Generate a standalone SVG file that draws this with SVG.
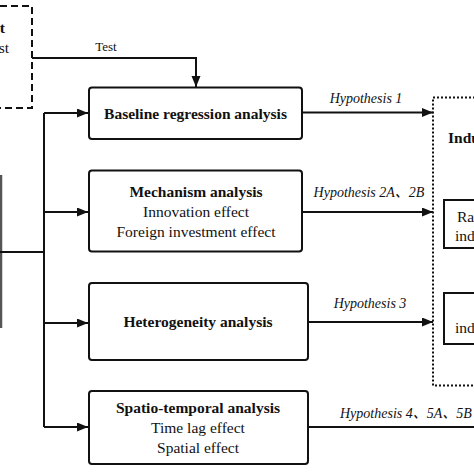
<svg xmlns="http://www.w3.org/2000/svg" width="474" height="474" viewBox="0 0 474 474">
<defs>
<style>
.t{font-family:"Liberation Serif","Times New Roman","Noto Sans CJK SC",serif;fill:#111}
.b{font-weight:bold;font-size:15.5px}
.r{font-size:15.5px}
.h{font-style:italic;font-size:14px}
.box{fill:#fff;stroke:#111;stroke-width:2}
.ln{fill:none;stroke:#111;stroke-width:2}
</style>
<marker id="ar" markerUnits="userSpaceOnUse" markerWidth="12" markerHeight="10" refX="11" refY="4.5" orient="auto">
<path d="M0,0 L11,4.5 L0,9 z" fill="#111"/>
</marker>
</defs>
<rect width="474" height="474" fill="#fff"/>

<g id="test-box">
<path d="M0,6 H32 V108 H0" fill="none" stroke="#111" stroke-width="2" stroke-dasharray="7,4"/>
<text class="t b" x="5" y="33" text-anchor="end">t</text>
<text class="t r" x="9" y="53" text-anchor="end">st</text>
</g>

<g id="left-box">
<line x1="1" y1="175" x2="1" y2="328" stroke="#555" stroke-width="2.5"/>
</g>

<g id="connectors">
<path class="ln" d="M32,58 H196 V87" marker-end="url(#ar)"/>
<text class="t" x="106" y="51" font-size="13" text-anchor="middle">Test</text>
<path class="ln" d="M0,252 H44"/>
<path class="ln" d="M44,113 V427"/>
<path class="ln" d="M44,113 H88" marker-end="url(#ar)"/>
<path class="ln" d="M44,212 H88" marker-end="url(#ar)"/>
<path class="ln" d="M44,323 H88" marker-end="url(#ar)"/>
<path class="ln" d="M44,427 H88" marker-end="url(#ar)"/>
<path class="ln" d="M302,112.5 H433" marker-end="url(#ar)"/>
<path class="ln" d="M302,212 H433" marker-end="url(#ar)"/>
<path class="ln" d="M308,322 H433" marker-end="url(#ar)"/>
<path class="ln" d="M308,427 H476"/>
<text class="t h" x="366" y="103" text-anchor="middle">Hypothesis 1</text>
<text class="t h" x="369" y="197" text-anchor="middle">Hypothesis 2A、2B</text>
<text class="t h" x="370" y="308" text-anchor="middle">Hypothesis 3</text>
<text class="t h" x="340" y="418">Hypothesis 4、5A、5B</text>
</g>

<g id="baseline">
<rect class="box" x="89" y="87.5" width="213" height="51.5" rx="3"/>
<text class="t b" x="195.5" y="119" text-anchor="middle">Baseline regression analysis</text>
</g>

<g id="mechanism">
<rect class="box" x="89" y="170.5" width="213" height="81" rx="3"/>
<text class="t b" x="196" y="197" text-anchor="middle">Mechanism analysis</text>
<text class="t r" x="196" y="217" text-anchor="middle">Innovation effect</text>
<text class="t r" x="196" y="237" text-anchor="middle">Foreign investment effect</text>
</g>

<g id="heterogeneity">
<rect class="box" x="89" y="283" width="219" height="77" rx="3"/>
<text class="t b" x="198" y="327" text-anchor="middle">Heterogeneity analysis</text>
</g>

<g id="spatio">
<rect class="box" x="89" y="391" width="219" height="73" rx="3"/>
<text class="t b" x="198" y="413" text-anchor="middle">Spatio-temporal analysis</text>
<text class="t r" x="198" y="433" text-anchor="middle">Time lag effect</text>
<text class="t r" x="198" y="453" text-anchor="middle">Spatial effect</text>
</g>

<g id="industry">
<rect x="433" y="97.5" width="60" height="288" fill="none" stroke="#111" stroke-width="2" stroke-dasharray="2,2"/>
<text class="t b" x="448" y="143">Indu</text>
<rect x="444" y="200" width="50" height="48" fill="#fff" stroke="#111" stroke-width="2"/>
<text class="t r" x="457" y="222">Ra</text>
<text class="t r" x="455" y="241">ind</text>
<rect x="444" y="293" width="50" height="51" fill="#fff" stroke="#111" stroke-width="2"/>
<text class="t r" x="455" y="333">ind</text>
</g>
</svg>
